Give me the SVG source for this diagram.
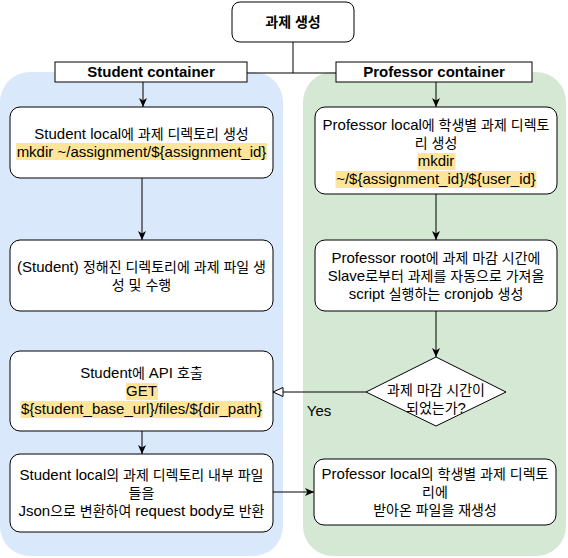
<svg xmlns="http://www.w3.org/2000/svg" width="568" height="558" viewBox="0 0 568 558">
<style>
.t{font-family:"Liberation Sans","Noto Sans CJK KR",Arial,sans-serif;font-size:15px;fill:#000;text-anchor:middle}
.b{font-weight:bold}
.k{font-family:"Liberation Sans","Noto Sans CJK KR",sans-serif;font-size:14px}
.box{fill:#fff;stroke:#000;stroke-width:1}
.lbl{fill:#fff;stroke:#000;stroke-width:1}
.hl{fill:#FFE599}
.c{fill:none;stroke:#000;stroke-width:1}
</style>
<defs>
<marker id="arr" viewBox="0 0 9 8" refX="9" refY="4" markerWidth="9" markerHeight="8" markerUnits="userSpaceOnUse" orient="auto">
<path d="M0,0 L9,4 L0,8 L2.5,4 z" fill="#000"/>
</marker>
<marker id="open" viewBox="0 0 11 10" refX="10.5" refY="5" markerWidth="11" markerHeight="10" markerUnits="userSpaceOnUse" orient="auto">
<path d="M0.5,0.5 L10.5,5 L0.5,9.5 z" fill="#fff" stroke="#000" stroke-width="1"/>
</marker>
</defs>
<g id="student-container">
<rect x="0" y="72" width="283" height="484" rx="30" fill="#dae8fc"/>
</g>
<g id="professor-container">
<rect x="303" y="72" width="263" height="484" rx="30" fill="#d5e8d4"/>
</g>
<g id="connectors">
<path class="c" d="M293,42 V73 M247,73 H336"/>
<path class="c" d="M143,82 V107" marker-end="url(#arr)"/>
<path class="c" d="M436,82 V107" marker-end="url(#arr)"/>
<path class="c" d="M142,178 V240" marker-end="url(#arr)"/>
<path class="c" d="M142,431 V454" marker-end="url(#arr)"/>
<path class="c" d="M436,194 V240" marker-end="url(#arr)"/>
<path class="c" d="M436,311 V357" marker-end="url(#arr)"/>
<path class="c" d="M366,392 H273" marker-end="url(#open)"/>
<path class="c" d="M273,492 H314" marker-end="url(#arr)"/>
<text class="t" x="319" y="416">Yes</text>
</g>
<g id="start">
<rect class="box" x="232" y="2" width="122" height="40" rx="8"/>
<text class="t b" x="293" y="27"><tspan class="k">과제 생성</tspan></text>
</g>
<g id="student-label">
<rect class="lbl" x="55" y="62" width="192" height="20"/>
<text class="t b" x="151" y="77">Student container</text>
</g>
<g id="professor-label">
<rect class="lbl" x="336" y="62" width="196" height="20"/>
<text class="t b" x="434" y="77">Professor container</text>
</g>
<g id="s1">
<rect class="box" x="10" y="107" width="263" height="71" rx="10"/>
<rect class="hl" x="16" y="143" width="251" height="17"/>
<text class="t" x="141.5" y="138.5">Student local<tspan class="k">에 과제 디렉토리 생성</tspan></text>
<text class="t" x="141.5" y="156.5">mkdir ~/assignment/${assignment_id}</text>
</g>
<g id="s2">
<rect class="box" x="10" y="240" width="263" height="71" rx="10"/>
<text class="t" x="141.5" y="271.5">(Student) <tspan class="k">정해진 디렉토리에 과제 파일 생</tspan></text>
<text class="t" x="141.5" y="289.5"><tspan class="k">성 및 수행</tspan></text>
</g>
<g id="s3">
<rect class="box" x="10" y="351" width="263" height="80" rx="10"/>
<rect class="hl" x="126" y="383" width="32" height="17"/>
<rect class="hl" x="20.5" y="401" width="242" height="17"/>
<text class="t" x="141.5" y="378">Student<tspan class="k">에 </tspan>API <tspan class="k">호출</tspan></text>
<text class="t" x="141.5" y="396">GET</text>
<text class="t" x="141.5" y="414">${student_base_url}/files/${dir_path}</text>
</g>
<g id="s4">
<rect class="box" x="10" y="454" width="263" height="78" rx="10"/>
<text class="t" x="141.5" y="480">Student local<tspan class="k">의 과제 디렉토리 내부 파일</tspan></text>
<text class="t" x="141.5" y="498"><tspan class="k">들을</tspan></text>
<text class="t" x="141.5" y="516">Json<tspan class="k">으로 변환하여 </tspan>request body<tspan class="k">로 반환</tspan></text>
</g>
<g id="p1">
<rect class="box" x="315" y="107" width="242" height="87" rx="10"/>
<rect class="hl" x="417.5" y="153" width="38" height="17"/>
<rect class="hl" x="335.5" y="171" width="201" height="17"/>
<text class="t" x="436" y="130">Professor local<tspan class="k">에 학생별 과제 디렉토</tspan></text>
<text class="t" x="436" y="148"><tspan class="k">리 생성</tspan></text>
<text class="t" x="436" y="166">mkdir</text>
<text class="t" x="436" y="184">~/${assignment_id}/${user_id}</text>
</g>
<g id="p2">
<rect class="box" x="315" y="240" width="242" height="71" rx="10"/>
<text class="t" x="436" y="262.5">Professor root<tspan class="k">에 과제 마감 시간에</tspan></text>
<text class="t" x="436" y="280.5">Slave<tspan class="k">로부터 과제를 자동으로 가져올</tspan></text>
<text class="t" x="436" y="298.5">script <tspan class="k">실행하는 </tspan>cronjob <tspan class="k">생성</tspan></text>
</g>
<g id="decision">
<path class="box" d="M436,357 L506,392 L436,426 L366,392 z"/>
<text class="t" x="436" y="395"><tspan class="k">과제 마감 시간이</tspan></text>
<text class="t" x="436" y="413"><tspan class="k">되었는가</tspan>?</text>
</g>
<g id="p3">
<rect class="box" x="314" y="459" width="242" height="66" rx="10"/>
<text class="t" x="435" y="479">Professor local<tspan class="k">의 학생별 과제 디렉토</tspan></text>
<text class="t" x="435" y="497"><tspan class="k">리에</tspan></text>
<text class="t" x="435" y="515"><tspan class="k">받아온 파일을 재생성</tspan></text>
</g>
</svg>
